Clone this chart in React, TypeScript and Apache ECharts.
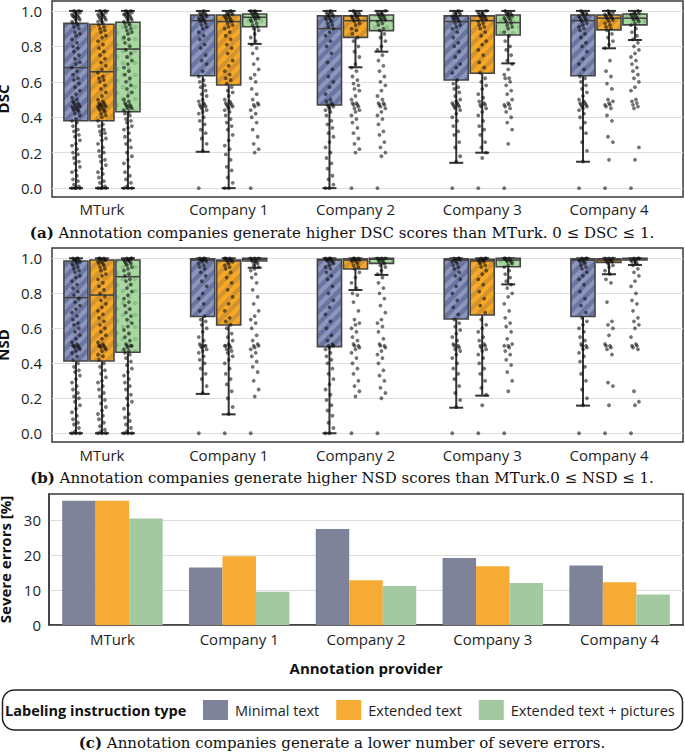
import React, { useEffect, useRef } from "react";
import * as echarts from "echarts";

const providers = ["MTurk", "Company 1", "Company 2", "Company 3", "Company 4"];
const instructionTypes = ["Minimal text", "Extended text", "Extended text + pictures"];
const scoreTicks = [0, 0.2, 0.4, 0.6, 0.8, 1.0];
const errorTicks = [0, 10, 20, 30];

// (c) severe errors [%]
const severeMinimal = [35.5, 16.4, 27.4, 19.1, 17.0];
const severeExtended = [35.5, 19.6, 12.8, 16.8, 12.2];
const severePictures = [30.4, 9.5, 11.1, 12.0, 8.7];

// box statistics per provider: [min, q1, median, q3, max]
const dscMinimalBoxes = [
  [0, 0.38, 0.68, 0.93, 1.0],
  [0.205, 0.634, 0.945, 0.977, 1.0],
  [0, 0.469, 0.9, 0.972, 1.0],
  [0.143, 0.61, 0.94, 0.972, 1.0],
  [0.149, 0.634, 0.945, 0.977, 1.0],
];
const dscExtendedBoxes = [
  [0, 0.38, 0.657, 0.925, 1.0],
  [0, 0.582, 0.94, 0.977, 1.0],
  [0.682, 0.851, 0.945, 0.972, 1.0],
  [0.2, 0.648, 0.945, 0.972, 1.0],
  [0.789, 0.893, 0.959, 0.977, 1.0],
];
const dscPicturesBoxes = [
  [0, 0.431, 0.785, 0.936, 1.0],
  [0.814, 0.911, 0.964, 0.983, 1.0],
  [0.77, 0.889, 0.945, 0.977, 1.0],
  [0.704, 0.864, 0.934, 0.977, 1.0],
  [0.836, 0.921, 0.959, 0.983, 1.0],
];
const nsdMinimalBoxes = [
  [0, 0.413, 0.775, 0.985, 1.0],
  [0.225, 0.667, 0.99, 0.997, 1.0],
  [0, 0.495, 0.99, 0.995, 1.0],
  [0.146, 0.653, 0.99, 0.997, 1.0],
  [0.158, 0.667, 0.99, 0.997, 1.0],
];
const nsdExtendedBoxes = [
  [0, 0.413, 0.79, 0.99, 1.0],
  [0.108, 0.619, 0.985, 0.99, 1.0],
  [0.819, 0.939, 0.99, 0.997, 1.0],
  [0.215, 0.676, 0.985, 0.995, 1.0],
  [0.909, 0.977, 0.99, 0.997, 1.0],
];
const nsdPicturesBoxes = [
  [0, 0.463, 0.895, 0.99, 1.0],
  [0.946, 0.985, 0.995, 1.0, 1.0],
  [0.905, 0.971, 0.995, 1.0, 1.0],
  [0.851, 0.952, 0.99, 1.0, 1.0],
  [0.962, 0.99, 0.997, 1.0, 1.0],
];

// individual scores (strip plot) per provider
const dscMinimalPoints = [
  [0, 0, 0, 0, 0.01, 0.02, 0.04, 0.05, 0.07, 0.09, 0.1, 0.12, 0.14, 0.15, 0.17, 0.19, 0.2, 0.22, 0.24, 0.25, 0.27, 0.29, 0.3, 0.32, 0.33, 0.35, 0.37, 0.38, 0.39, 0.41, 0.42, 0.43, 0.44, 0.44, 0.45, 0.45, 0.46, 0.46, 0.46, 0.47, 0.47, 0.48, 0.48, 0.49, 0.5, 0.51, 0.53, 0.55, 0.57, 0.59, 0.61, 0.62, 0.64, 0.66, 0.68, 0.7, 0.71, 0.73, 0.75, 0.77, 0.79, 0.8, 0.82, 0.84, 0.86, 0.87, 0.88, 0.9, 0.91, 0.92, 0.93, 0.93, 0.94, 0.95, 0.95, 0.96, 0.96, 0.97, 0.97, 0.97, 0.98, 0.98, 0.99, 0.99, 0.99, 1, 1],
  [0, 0.21, 0.25, 0.28, 0.31, 0.33, 0.36, 0.38, 0.4, 0.42, 0.43, 0.44, 0.45, 0.46, 0.46, 0.47, 0.47, 0.48, 0.49, 0.5, 0.52, 0.53, 0.55, 0.57, 0.58, 0.6, 0.61, 0.63, 0.66, 0.7, 0.72, 0.75, 0.79, 0.81, 0.84, 0.86, 0.88, 0.9, 0.91, 0.92, 0.93, 0.94, 0.94, 0.95, 0.95, 0.96, 0.96, 0.97, 0.97, 0.98, 0.98, 0.99, 0.99, 1],
  [0, 0, 0.02, 0.05, 0.07, 0.11, 0.14, 0.17, 0.2, 0.23, 0.26, 0.29, 0.31, 0.34, 0.36, 0.38, 0.41, 0.43, 0.44, 0.45, 0.46, 0.46, 0.47, 0.47, 0.48, 0.49, 0.5, 0.53, 0.57, 0.6, 0.63, 0.67, 0.71, 0.76, 0.8, 0.83, 0.86, 0.88, 0.9, 0.91, 0.92, 0.93, 0.94, 0.95, 0.95, 0.96, 0.96, 0.97, 0.97, 0.98, 0.98, 0.99, 0.99, 1],
  [0, 0.15, 0.18, 0.23, 0.26, 0.3, 0.32, 0.35, 0.38, 0.4, 0.42, 0.44, 0.45, 0.46, 0.46, 0.47, 0.47, 0.48, 0.48, 0.49, 0.5, 0.52, 0.54, 0.56, 0.57, 0.59, 0.61, 0.65, 0.68, 0.7, 0.74, 0.77, 0.8, 0.82, 0.85, 0.88, 0.9, 0.91, 0.92, 0.93, 0.94, 0.95, 0.95, 0.96, 0.96, 0.97, 0.97, 0.98, 0.98, 0.99, 0.99, 1],
  [0, 0.15, 0.21, 0.26, 0.31, 0.34, 0.37, 0.4, 0.42, 0.44, 0.45, 0.46, 0.46, 0.47, 0.47, 0.48, 0.48, 0.49, 0.5, 0.52, 0.54, 0.56, 0.58, 0.6, 0.62, 0.63, 0.67, 0.7, 0.73, 0.77, 0.8, 0.82, 0.85, 0.87, 0.89, 0.9, 0.91, 0.92, 0.93, 0.94, 0.95, 0.95, 0.96, 0.96, 0.97, 0.97, 0.98, 0.98, 0.99, 0.99, 1],
];
const dscExtendedPoints = [
  [0, 0, 0, 0, 0.01, 0.03, 0.04, 0.06, 0.08, 0.09, 0.11, 0.13, 0.15, 0.16, 0.18, 0.2, 0.21, 0.23, 0.25, 0.27, 0.28, 0.3, 0.31, 0.32, 0.33, 0.35, 0.36, 0.38, 0.4, 0.41, 0.42, 0.43, 0.44, 0.44, 0.45, 0.45, 0.46, 0.46, 0.46, 0.47, 0.47, 0.47, 0.48, 0.48, 0.49, 0.5, 0.52, 0.54, 0.56, 0.58, 0.6, 0.61, 0.62, 0.63, 0.65, 0.67, 0.69, 0.71, 0.73, 0.75, 0.77, 0.79, 0.81, 0.83, 0.85, 0.86, 0.88, 0.89, 0.9, 0.91, 0.92, 0.93, 0.94, 0.94, 0.95, 0.95, 0.96, 0.96, 0.97, 0.97, 0.98, 0.98, 0.98, 0.99, 0.99, 1, 1],
  [0, 0, 0.03, 0.06, 0.1, 0.12, 0.16, 0.19, 0.22, 0.24, 0.27, 0.3, 0.33, 0.35, 0.37, 0.39, 0.41, 0.43, 0.44, 0.45, 0.46, 0.46, 0.47, 0.47, 0.48, 0.48, 0.49, 0.5, 0.52, 0.54, 0.55, 0.57, 0.59, 0.61, 0.62, 0.64, 0.66, 0.69, 0.72, 0.76, 0.79, 0.81, 0.84, 0.86, 0.88, 0.9, 0.91, 0.92, 0.93, 0.94, 0.95, 0.95, 0.96, 0.96, 0.97, 0.97, 0.98, 0.98, 0.99, 0.99, 1],
  [0, 0.2, 0.22, 0.25, 0.28, 0.31, 0.34, 0.37, 0.39, 0.41, 0.43, 0.44, 0.45, 0.46, 0.47, 0.47, 0.48, 0.48, 0.5, 0.52, 0.55, 0.56, 0.58, 0.59, 0.61, 0.63, 0.66, 0.68, 0.7, 0.74, 0.77, 0.8, 0.83, 0.85, 0.87, 0.89, 0.9, 0.92, 0.93, 0.94, 0.95, 0.95, 0.96, 0.96, 0.97, 0.97, 0.98, 0.98, 0.99, 0.99, 1],
  [0, 0.17, 0.2, 0.23, 0.26, 0.3, 0.33, 0.35, 0.38, 0.41, 0.43, 0.45, 0.46, 0.47, 0.47, 0.48, 0.49, 0.51, 0.53, 0.56, 0.58, 0.6, 0.62, 0.65, 0.68, 0.71, 0.75, 0.78, 0.81, 0.83, 0.86, 0.88, 0.9, 0.91, 0.92, 0.93, 0.94, 0.95, 0.95, 0.96, 0.96, 0.97, 0.97, 0.98, 0.98, 0.99, 0.99, 1],
  [0, 0.16, 0.26, 0.29, 0.38, 0.41, 0.45, 0.46, 0.47, 0.47, 0.48, 0.49, 0.5, 0.56, 0.59, 0.63, 0.66, 0.72, 0.79, 0.81, 0.83, 0.85, 0.87, 0.89, 0.9, 0.91, 0.92, 0.93, 0.94, 0.95, 0.95, 0.96, 0.96, 0.97, 0.97, 0.98, 0.98, 0.99, 0.99, 1],
];
const dscPicturesPoints = [
  [0, 0, 0, 0.01, 0.03, 0.05, 0.07, 0.09, 0.12, 0.14, 0.16, 0.18, 0.2, 0.23, 0.25, 0.27, 0.29, 0.31, 0.33, 0.34, 0.35, 0.37, 0.38, 0.39, 0.41, 0.42, 0.43, 0.44, 0.45, 0.45, 0.46, 0.46, 0.47, 0.47, 0.48, 0.49, 0.5, 0.52, 0.54, 0.56, 0.58, 0.6, 0.62, 0.64, 0.66, 0.68, 0.7, 0.72, 0.74, 0.76, 0.78, 0.8, 0.82, 0.84, 0.85, 0.87, 0.88, 0.89, 0.9, 0.91, 0.92, 0.93, 0.93, 0.94, 0.95, 0.95, 0.96, 0.96, 0.97, 0.97, 0.98, 0.98, 0.98, 0.99, 0.99, 0.99, 1, 1],
  [0, 0.2, 0.22, 0.25, 0.29, 0.33, 0.37, 0.4, 0.42, 0.44, 0.46, 0.47, 0.47, 0.48, 0.5, 0.53, 0.56, 0.6, 0.62, 0.64, 0.67, 0.7, 0.73, 0.76, 0.79, 0.81, 0.83, 0.85, 0.87, 0.89, 0.9, 0.91, 0.92, 0.93, 0.94, 0.95, 0.95, 0.96, 0.96, 0.97, 0.97, 0.98, 0.98, 0.99, 0.99, 1, 1],
  [0, 0.18, 0.2, 0.23, 0.26, 0.3, 0.32, 0.36, 0.39, 0.41, 0.43, 0.45, 0.46, 0.47, 0.47, 0.48, 0.48, 0.5, 0.52, 0.55, 0.58, 0.6, 0.63, 0.66, 0.69, 0.72, 0.75, 0.78, 0.8, 0.83, 0.85, 0.87, 0.89, 0.9, 0.92, 0.93, 0.94, 0.95, 0.95, 0.96, 0.96, 0.97, 0.97, 0.98, 0.98, 0.99, 0.99, 1],
  [0, 0.25, 0.33, 0.37, 0.4, 0.43, 0.45, 0.46, 0.47, 0.47, 0.48, 0.5, 0.53, 0.55, 0.58, 0.6, 0.62, 0.62, 0.64, 0.67, 0.7, 0.72, 0.75, 0.78, 0.8, 0.83, 0.86, 0.88, 0.9, 0.91, 0.92, 0.93, 0.94, 0.95, 0.95, 0.96, 0.96, 0.97, 0.97, 0.98, 0.98, 0.99, 0.99, 1],
  [0, 0.16, 0.23, 0.45, 0.46, 0.47, 0.48, 0.49, 0.5, 0.55, 0.57, 0.6, 0.62, 0.64, 0.66, 0.68, 0.7, 0.72, 0.74, 0.76, 0.78, 0.8, 0.82, 0.84, 0.86, 0.88, 0.9, 0.92, 0.93, 0.94, 0.95, 0.95, 0.96, 0.96, 0.97, 0.97, 0.98, 0.98, 0.99, 0.99, 1],
];
const nsdMinimalPoints = [
  [0, 0, 0, 0.01, 0.03, 0.05, 0.06, 0.08, 0.1, 0.12, 0.14, 0.16, 0.18, 0.2, 0.21, 0.23, 0.25, 0.27, 0.29, 0.31, 0.33, 0.35, 0.36, 0.38, 0.4, 0.42, 0.44, 0.46, 0.47, 0.48, 0.49, 0.49, 0.5, 0.5, 0.5, 0.51, 0.52, 0.54, 0.56, 0.58, 0.6, 0.62, 0.63, 0.65, 0.67, 0.69, 0.71, 0.73, 0.75, 0.77, 0.79, 0.81, 0.83, 0.85, 0.87, 0.89, 0.9, 0.92, 0.93, 0.94, 0.95, 0.96, 0.97, 0.97, 0.98, 0.98, 0.99, 0.99, 0.99, 1, 1, 1],
  [0, 0.23, 0.27, 0.31, 0.34, 0.37, 0.4, 0.42, 0.44, 0.46, 0.47, 0.48, 0.49, 0.5, 0.5, 0.5, 0.51, 0.53, 0.55, 0.58, 0.6, 0.62, 0.64, 0.65, 0.67, 0.7, 0.74, 0.77, 0.8, 0.84, 0.87, 0.9, 0.92, 0.94, 0.95, 0.96, 0.97, 0.98, 0.98, 0.99, 0.99, 0.99, 1, 1, 1],
  [0, 0, 0.03, 0.06, 0.1, 0.13, 0.16, 0.19, 0.22, 0.25, 0.28, 0.31, 0.34, 0.37, 0.4, 0.42, 0.44, 0.46, 0.48, 0.49, 0.5, 0.5, 0.51, 0.53, 0.56, 0.6, 0.64, 0.68, 0.72, 0.76, 0.8, 0.84, 0.88, 0.9, 0.92, 0.94, 0.95, 0.96, 0.97, 0.98, 0.98, 0.99, 0.99, 0.99, 1, 1, 1],
  [0, 0.15, 0.19, 0.23, 0.27, 0.31, 0.34, 0.37, 0.4, 0.43, 0.45, 0.47, 0.48, 0.49, 0.5, 0.5, 0.51, 0.53, 0.55, 0.57, 0.59, 0.61, 0.63, 0.65, 0.68, 0.72, 0.76, 0.8, 0.84, 0.88, 0.9, 0.92, 0.94, 0.95, 0.96, 0.97, 0.98, 0.98, 0.99, 0.99, 1, 1, 1],
  [0, 0.16, 0.2, 0.25, 0.3, 0.34, 0.38, 0.41, 0.44, 0.46, 0.48, 0.49, 0.5, 0.5, 0.51, 0.53, 0.55, 0.58, 0.6, 0.62, 0.64, 0.66, 0.69, 0.73, 0.77, 0.81, 0.85, 0.88, 0.9, 0.92, 0.94, 0.95, 0.96, 0.97, 0.98, 0.98, 0.99, 0.99, 1, 1, 1],
];
const nsdExtendedPoints = [
  [0, 0, 0, 0.01, 0.02, 0.04, 0.06, 0.08, 0.1, 0.11, 0.13, 0.15, 0.17, 0.19, 0.21, 0.23, 0.25, 0.27, 0.29, 0.3, 0.32, 0.34, 0.36, 0.38, 0.4, 0.42, 0.44, 0.45, 0.47, 0.48, 0.49, 0.49, 0.5, 0.5, 0.5, 0.51, 0.52, 0.54, 0.56, 0.58, 0.6, 0.62, 0.64, 0.66, 0.68, 0.7, 0.72, 0.74, 0.76, 0.78, 0.8, 0.82, 0.84, 0.86, 0.88, 0.9, 0.91, 0.93, 0.94, 0.95, 0.96, 0.97, 0.97, 0.98, 0.98, 0.99, 0.99, 0.99, 1, 1, 1],
  [0, 0.11, 0.15, 0.2, 0.24, 0.28, 0.31, 0.34, 0.37, 0.4, 0.42, 0.44, 0.46, 0.47, 0.48, 0.49, 0.5, 0.5, 0.5, 0.51, 0.53, 0.55, 0.57, 0.6, 0.62, 0.64, 0.66, 0.7, 0.74, 0.78, 0.82, 0.86, 0.89, 0.92, 0.94, 0.95, 0.96, 0.97, 0.98, 0.98, 0.99, 0.99, 0.99, 1, 1, 1],
  [0, 0.21, 0.24, 0.27, 0.3, 0.34, 0.37, 0.4, 0.43, 0.46, 0.48, 0.49, 0.5, 0.5, 0.51, 0.53, 0.55, 0.58, 0.6, 0.62, 0.63, 0.65, 0.7, 0.75, 0.79, 0.8, 0.83, 0.86, 0.89, 0.92, 0.94, 0.95, 0.96, 0.97, 0.98, 0.98, 0.99, 0.99, 0.99, 1, 1, 1],
  [0, 0.16, 0.22, 0.26, 0.3, 0.34, 0.37, 0.4, 0.43, 0.45, 0.47, 0.48, 0.49, 0.5, 0.5, 0.51, 0.53, 0.55, 0.58, 0.6, 0.62, 0.65, 0.69, 0.73, 0.77, 0.81, 0.85, 0.88, 0.91, 0.93, 0.95, 0.96, 0.97, 0.98, 0.98, 0.99, 0.99, 0.99, 1, 1, 1],
  [0, 0.16, 0.27, 0.29, 0.45, 0.48, 0.49, 0.5, 0.5, 0.51, 0.56, 0.6, 0.62, 0.64, 0.75, 0.86, 0.88, 0.91, 0.93, 0.95, 0.96, 0.97, 0.98, 0.98, 0.99, 0.99, 0.99, 1, 1, 1],
];
const nsdPicturesPoints = [
  [0, 0, 0, 0.01, 0.03, 0.05, 0.07, 0.09, 0.11, 0.14, 0.16, 0.18, 0.2, 0.22, 0.25, 0.27, 0.29, 0.31, 0.33, 0.35, 0.37, 0.39, 0.41, 0.43, 0.45, 0.46, 0.47, 0.48, 0.49, 0.5, 0.5, 0.5, 0.51, 0.53, 0.55, 0.57, 0.59, 0.61, 0.63, 0.65, 0.67, 0.69, 0.71, 0.73, 0.75, 0.77, 0.79, 0.81, 0.83, 0.85, 0.87, 0.88, 0.9, 0.91, 0.93, 0.94, 0.95, 0.96, 0.97, 0.97, 0.98, 0.98, 0.99, 0.99, 0.99, 1, 1, 1],
  [0, 0.21, 0.25, 0.3, 0.35, 0.38, 0.41, 0.44, 0.46, 0.48, 0.49, 0.5, 0.5, 0.51, 0.53, 0.56, 0.6, 0.63, 0.65, 0.67, 0.7, 0.74, 0.78, 0.82, 0.86, 0.89, 0.91, 0.93, 0.94, 0.95, 0.96, 0.97, 0.98, 0.98, 0.99, 0.99, 1, 1, 1],
  [0, 0.2, 0.23, 0.26, 0.3, 0.33, 0.36, 0.4, 0.43, 0.45, 0.47, 0.49, 0.5, 0.5, 0.51, 0.54, 0.58, 0.61, 0.63, 0.65, 0.69, 0.73, 0.77, 0.8, 0.83, 0.86, 0.89, 0.91, 0.93, 0.95, 0.96, 0.97, 0.98, 0.98, 0.99, 0.99, 1, 1, 1],
  [0, 0.24, 0.3, 0.35, 0.39, 0.42, 0.45, 0.47, 0.49, 0.5, 0.5, 0.51, 0.54, 0.58, 0.61, 0.63, 0.66, 0.7, 0.74, 0.78, 0.8, 0.83, 0.85, 0.87, 0.89, 0.91, 0.93, 0.95, 0.96, 0.97, 0.98, 0.98, 0.99, 0.99, 1, 1, 1],
  [0, 0.16, 0.18, 0.24, 0.48, 0.49, 0.5, 0.5, 0.51, 0.55, 0.6, 0.62, 0.64, 0.66, 0.7, 0.74, 0.76, 0.8, 0.84, 0.87, 0.9, 0.92, 0.94, 0.96, 0.97, 0.98, 0.98, 0.99, 0.99, 1, 1, 1],
];

const SANS = '"Open Sans", "Noto Sans", sans-serif';
const SERIF = '"DejaVu Serif", serif';
const TEXT = "#1e1e1e";
const FRAME = "#3a3a3a";
const barColors = ["#7e8399", "#f6ab35", "#a4c9a1"];
const typeOffsets = [-0.205, 0, 0.205];
const BOX_W = 0.19;
const CAP_W = 0.11;

function makePattern(kind: number) {
  const T = 12;
  const c = document.createElement("canvas");
  c.width = T;
  c.height = T;
  const g = c.getContext("2d")!;
  if (kind < 2) {
    g.fillStyle = kind === 0 ? "#6a75a2" : "#f6a826";
    g.fillRect(0, 0, T, T);
    g.strokeStyle = kind === 0 ? "#8d96bc" : "#d3942f";
    g.lineWidth = 4.2;
    g.beginPath();
    g.moveTo(-2, T + 2);
    g.lineTo(T + 2, -2);
    g.moveTo(-T / 2 - 2, T / 2 + 2);
    g.lineTo(T / 2 + 2, -T / 2 - 2);
    g.moveTo(T / 2 - 2, (3 * T) / 2 + 2);
    g.lineTo((3 * T) / 2 + 2, T / 2 - 2);
    g.stroke();
  } else {
    g.fillStyle = "#a9d7a2";
    g.fillRect(0, 0, T, T);
    g.fillStyle = "#8cc286";
    g.beginPath();
    g.arc(3, 3, 2.3, 0, Math.PI * 2);
    g.arc(9, 9, 2.3, 0, Math.PI * 2);
    g.fill();
  }
  return { image: c.toDataURL(), repeat: "repeat", imageWidth: T, imageHeight: T };
}

const jitter = (j: number) => (((j * 4) % 9) - 4) * 0.0078;

function boxSeries(boxes: number[][], t: number, axis: number, pattern: any) {
  return {
    type: "custom",
    name: "box-" + axis + "-" + t,
    xAxisIndex: axis,
    yAxisIndex: axis,
    z: 2,
    silent: true,
    data: boxes.map((b, i) => [i + typeOffsets[t], ...b]),
    encode: { x: 0, y: [1, 2, 3, 4, 5] },
    renderItem: (params: any, api: any) => {
      const x = api.value(0);
      const lo = api.coord([x, api.value(1)]);
      const q1 = api.coord([x, api.value(2)]);
      const md = api.coord([x, api.value(3)]);
      const q3 = api.coord([x, api.value(4)]);
      const hi = api.coord([x, api.value(5)]);
      const hw = api.size([BOX_W, 0])[0] / 2;
      const cw = api.size([CAP_W, 0])[0] / 2;
      const cx = lo[0];
      const ls = { stroke: "#333333", lineWidth: 2 };
      return {
        type: "group",
        children: [
          { type: "line", shape: { x1: cx, y1: hi[1], x2: cx, y2: q3[1] }, style: ls },
          { type: "line", shape: { x1: cx, y1: q1[1], x2: cx, y2: lo[1] }, style: ls },
          { type: "line", shape: { x1: cx - cw, y1: hi[1], x2: cx + cw, y2: hi[1] }, style: ls },
          { type: "line", shape: { x1: cx - cw, y1: lo[1], x2: cx + cw, y2: lo[1] }, style: ls },
          {
            type: "rect",
            shape: { x: cx - hw, y: q3[1], width: hw * 2, height: Math.max(q1[1] - q3[1], 1) },
            style: { fill: pattern, stroke: "#454545", lineWidth: 1.6 },
          },
          { type: "line", shape: { x1: cx - hw, y1: md[1], x2: cx + hw, y2: md[1] }, style: { stroke: "#454545", lineWidth: 1.6 } },
        ],
      };
    },
  };
}

function pointSeries(points: number[][], t: number, axis: number) {
  const data: number[][] = [];
  points.forEach((vals, i) => vals.forEach((v, j) => data.push([i + typeOffsets[t] + jitter(j), v])));
  return {
    type: "scatter",
    name: "pts-" + axis + "-" + t,
    xAxisIndex: axis,
    yAxisIndex: axis,
    z: 4,
    silent: true,
    symbolSize: 3.8,
    itemStyle: { color: "rgba(12,12,12,0.72)" },
    data,
  };
}

function scoreXAxis(grid: number, margin: number) {
  return {
    type: "value",
    gridIndex: grid,
    min: -0.394,
    max: 4.584,
    axisLine: { show: false },
    axisTick: { show: false },
    splitLine: { show: false },
    axisLabel: {
      customValues: [0, 1, 2, 3, 4],
      formatter: (v: number) => providers[Math.round(v)],
      fontSize: 15,
      fontFamily: SANS,
      color: TEXT,
      margin,
    },
  };
}

function scoreYAxis(grid: number, name: string, min: number, max: number) {
  return {
    type: "value",
    gridIndex: grid,
    min,
    max,
    name,
    nameLocation: "middle",
    nameGap: 35,
    nameRotate: 90,
    nameTextStyle: { fontSize: 15, lineHeight: 15, fontWeight: "bold", fontFamily: SANS, color: "#111" },
    axisLine: { show: false },
    axisTick: { show: false, customValues: scoreTicks },
    splitLine: { show: true, lineStyle: { color: "#dddddd", width: 1 } },
    axisLabel: {
      customValues: scoreTicks,
      formatter: (v: number) => v.toFixed(1),
      fontSize: 15,
      fontFamily: SANS,
      color: TEXT,
      margin: 10,
    },
  };
}

const gridBase = {
  show: true,
  borderColor: FRAME,
  borderWidth: 1.5,
  backgroundColor: "transparent",
  containLabel: false,
  outerBoundsMode: "none",
};

export default function App() {
  const ref = useRef<HTMLDivElement>(null);
  useEffect(() => {
    if (!ref.current) return;
    const chart = echarts.init(ref.current, null, { renderer: "svg" });
    const patterns = [makePattern(0), makePattern(1), makePattern(2)];
    const dscBoxes = [dscMinimalBoxes, dscExtendedBoxes, dscPicturesBoxes];
    const nsdBoxes = [nsdMinimalBoxes, nsdExtendedBoxes, nsdPicturesBoxes];
    const dscPts = [dscMinimalPoints, dscExtendedPoints, dscPicturesPoints];
    const nsdPts = [nsdMinimalPoints, nsdExtendedPoints, nsdPicturesPoints];
    const severe = [severeMinimal, severeExtended, severePictures];

    const series: any[] = [];
    [0, 1, 2].forEach((t) => {
      series.push(boxSeries(dscBoxes[t], t, 0, patterns[t]));
      series.push(boxSeries(nsdBoxes[t], t, 1, patterns[t]));
    });
    [0, 1, 2].forEach((t) => {
      series.push(pointSeries(dscPts[t], t, 0));
      series.push(pointSeries(nsdPts[t], t, 1));
    });
    [0, 1, 2].forEach((t) => {
      series.push({
        type: "bar",
        name: instructionTypes[t],
        xAxisIndex: 2,
        yAxisIndex: 2,
        data: severe[t],
        barWidth: 33.5,
        barGap: "0%",
        itemStyle: { color: barColors[t] },
        silent: true,
      });
    });

    const caption = (y: number, tag: string, body: string) => ({
      type: "text",
      x: 342,
      y,
      style: {
        text: "{b|" + tag + "} " + body,
        fontSize: 15,
        fontFamily: SERIF,
        fill: "#111",
        align: "center",
        verticalAlign: "middle",
        rich: { b: { fontWeight: "bold", fontSize: 15, fontFamily: SERIF, fill: "#111" } },
      },
    });

    chart.setOption({
      animation: false,
      backgroundColor: "#ffffff",
      grid: [
        { ...gridBase, left: 52, top: 1, width: 631, height: 196 },
        { ...gridBase, left: 52, top: 248, width: 631, height: 194 },
        { ...gridBase, left: 49, top: 494, width: 634, height: 131 },
      ],
      xAxis: [
        scoreXAxis(0, 4),
        scoreXAxis(1, 5),
        {
          type: "category",
          gridIndex: 2,
          data: providers,
          axisTick: { show: false },
          axisLine: { lineStyle: { color: FRAME, width: 1.5 } },
          axisLabel: { fontSize: 15, fontFamily: SANS, color: TEXT, margin: 6 },
          name: "Annotation provider",
          nameLocation: "middle",
          nameGap: 35,
          nameTextStyle: { fontSize: 15, fontWeight: "bold", fontFamily: SANS, color: "#111" },
        },
      ],
      yAxis: [
        scoreYAxis(0, "DSC", -0.05, 1.056),
        scoreYAxis(1, "NSD", -0.05, 1.059),
        {
          type: "value",
          gridIndex: 2,
          min: 0,
          max: 37.4,
          name: "Severe errors [%]",
          nameLocation: "middle",
          nameGap: 32,
          nameRotate: 90,
          nameTextStyle: { fontSize: 15, lineHeight: 15, fontWeight: "bold", fontFamily: SANS, color: "#111" },
          axisLine: { show: true, lineStyle: { color: FRAME, width: 1.5 } },
          axisTick: { show: false, customValues: errorTicks },
          splitLine: { show: true, lineStyle: { color: "#dddddd", width: 1 } },
          axisLabel: { customValues: errorTicks, fontSize: 15, fontFamily: SANS, color: TEXT, margin: 8 },
        },
      ],
      legend: {
        data: instructionTypes,
        left: 203,
        top: 700,
        width: 480,
        padding: 0,
        itemWidth: 25,
        itemHeight: 20,
        itemGap: 17,
        icon: "rect",
        selectedMode: false,
        textStyle: { fontSize: 14.5, fontFamily: SANS, color: TEXT, padding: [0, 0, 0, 2] },
      },
      graphic: [
        caption(233, "(a)", "Annotation companies generate higher DSC scores than MTurk. 0 \u2264 DSC \u2264 1."),
        caption(478, "(b)", "Annotation companies generate higher NSD scores than MTurk.0 \u2264 NSD \u2264 1."),
        caption(743, "(c)", "Annotation companies generate a lower number of severe errors."),
        {
          type: "rect",
          shape: { x: 2.5, y: 690, width: 680, height: 40, r: 12 },
          style: { fill: "none", stroke: "#222", lineWidth: 1.5 },
        },
        {
          type: "text",
          x: 5,
          y: 710,
          style: {
            text: "Labeling instruction type",
            fontSize: 14.5,
            fontWeight: "bold",
            fontFamily: SANS,
            fill: "#111",
            verticalAlign: "middle",
          },
        },
      ],
      series,
    });
    return () => chart.dispose();
  }, []);
  return (
    <div
      ref={ref}
      style={{ position: "absolute", left: 0, top: 0, width: 685, height: 753, background: "#fff" }}
    />
  );
}
